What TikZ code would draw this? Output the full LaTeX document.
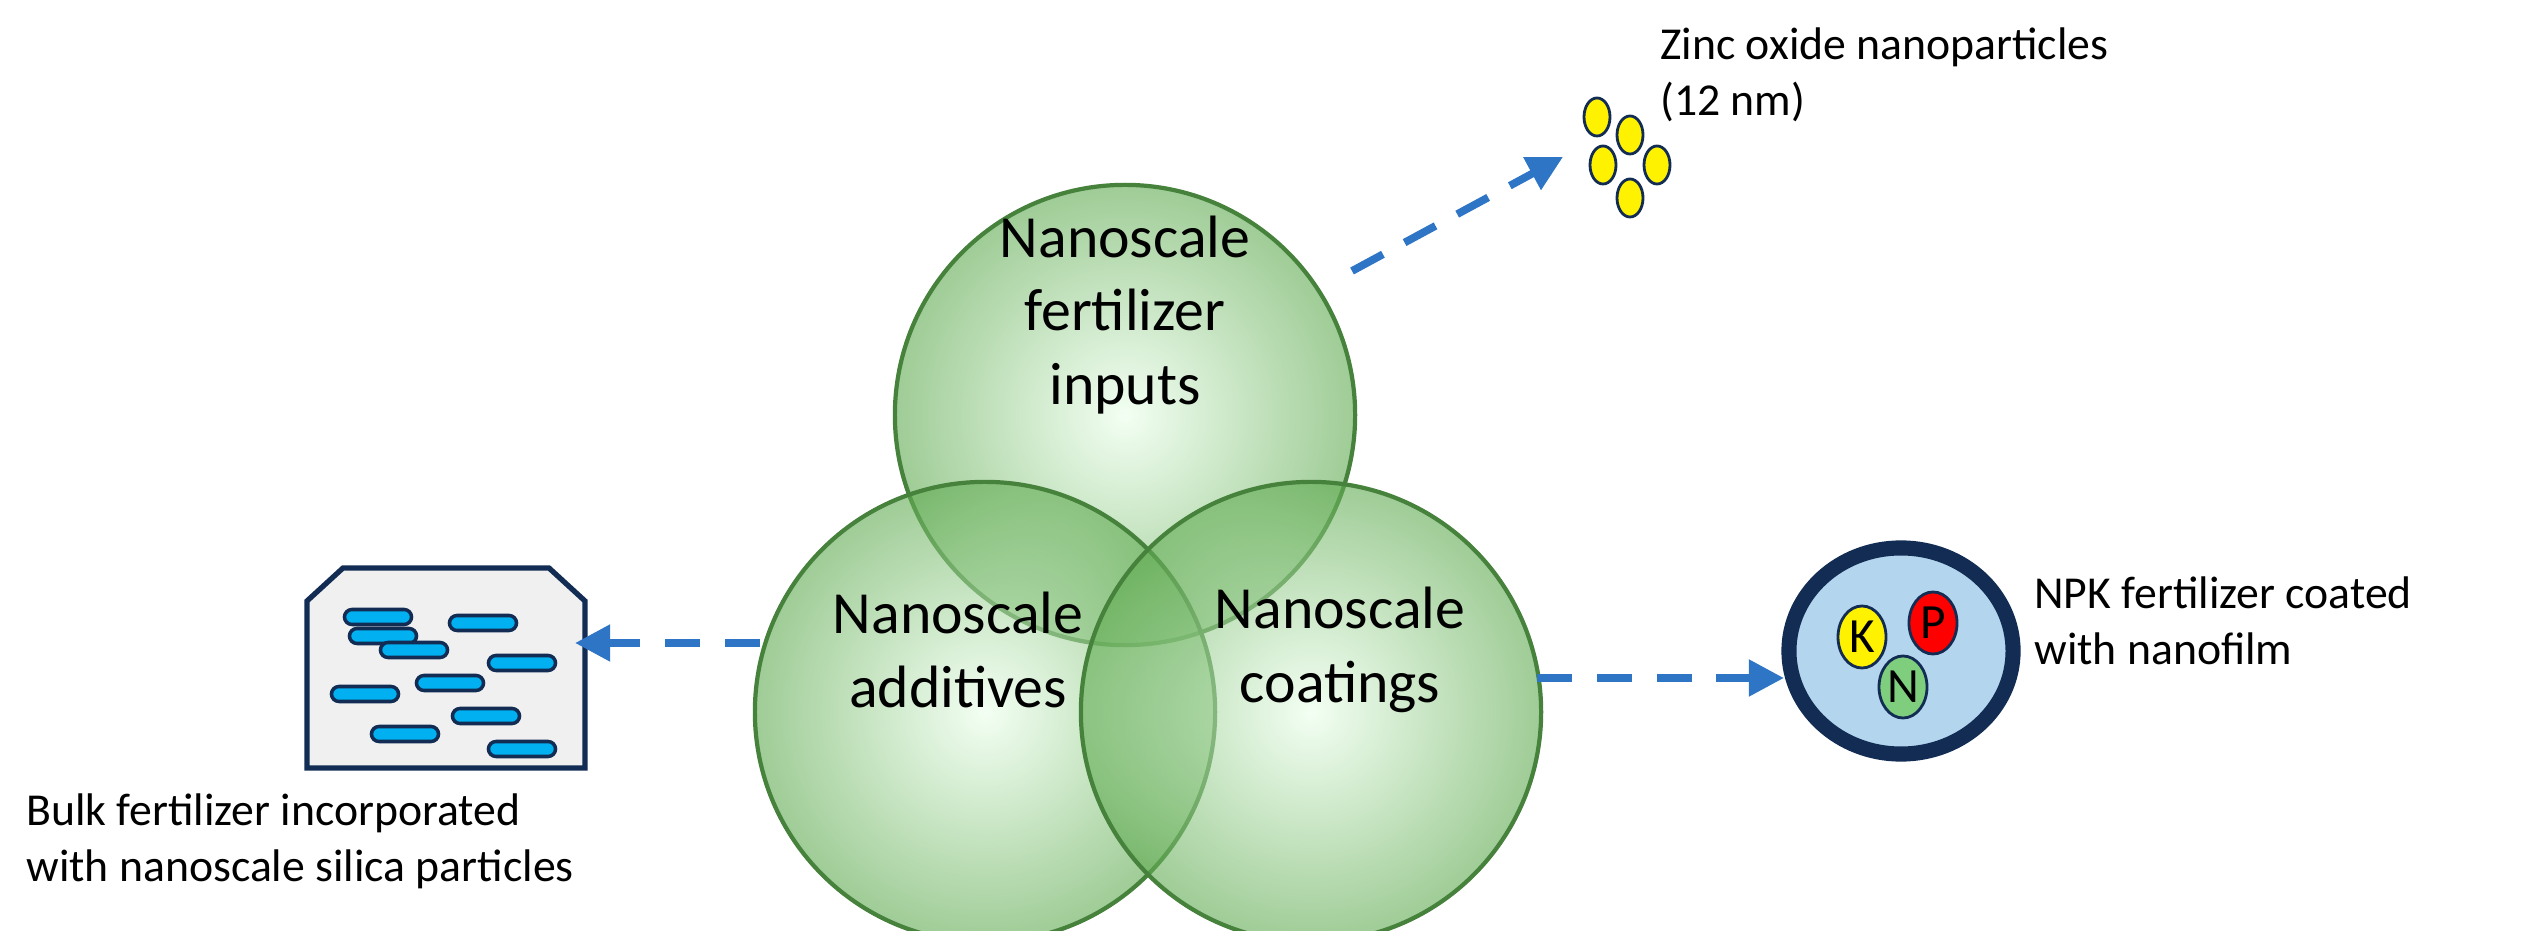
\documentclass[tikz,border=0pt]{standalone}
\usepackage{fontspec}
\setmainfont{Carlito}
\usetikzlibrary{arrows.meta,shapes.geometric,shapes.misc}
\definecolor{arrowblue}{RGB}{46,117,198}
\definecolor{navy}{RGB}{18,44,84}
\definecolor{rodblue}{RGB}{0,176,240}
\definecolor{coatblue}{RGB}{180,213,238}
\definecolor{ringgreen}{RGB}{70,130,60}
\definecolor{rimgreen}{RGB}{95,170,80}
\tikzset{
  venn/.style={circle,minimum size=4.6cm,inner sep=0pt,draw=ringgreen,line width=1.2pt,
    inner color=white!92!green,outer color=rimgreen,fill opacity=0.6,
    text opacity=1,align=center,font=\fontsize{17}{21}\selectfont},
  link/.style={arrowblue,line width=2.2pt,dash pattern=on 10pt off 7pt,-{Triangle[length=10pt,width=10pt]}},
  label/.style={align=left,anchor=west,font=\fontsize{13}{16}\selectfont},
  rod/.style={rounded rectangle,draw=navy,line width=1pt,fill=rodblue,minimum width=0.67cm,minimum height=0.15cm,inner sep=0pt},
  zinc/.style={ellipse,draw=navy,line width=0.8pt,fill=yellow,minimum width=0.26cm,minimum height=0.38cm,inner sep=0pt},
  nutrient/.style={ellipse,draw=navy,line width=0.8pt,minimum width=0.48cm,minimum height=0.62cm,inner sep=0pt,font=\fontsize{14}{16}\selectfont}
}
\begin{document}
\begin{tikzpicture}[x=0.01cm,y=0.01cm]
\useasboundingbox (0,0) rectangle (2521,930);

% venn circles
\node[venn] (inputs) at (1125,515) {};
\node[venn] (additives) at (985,218) {};
\node[venn] (coatings) at (1311,218) {};
\node[align=center,font=\fontsize{17}{21}\selectfont] (inputsText) at (1125,615) {Nanoscale\\fertilizer\\inputs};
\node[align=center,font=\fontsize{17}{21}\selectfont] (additivesText) at (958,280) {Nanoscale\\additives};
\node[align=center,font=\fontsize{17}{21}\selectfont] (coatingsText) at (1340,280) {Nanoscale\\coatings};

% zinc oxide
\foreach \x/\y in {1597/813,1630/795,1603/765,1657/765,1630/732}
  \node[zinc] at (\x,\y) {};
\node[label] (zincText) at (1648,855) {Zinc oxide nanoparticles\\(12 nm)};

% bulk fertilizer
\draw[navy,line width=1.5pt,fill=gray!12] (307,162) -- (307,329) -- (343,362) -- (549,362) -- (585,329) -- (585,162) -- cycle;
\foreach \x/\y in {378/313,483/307,383/294,414/280,522/267,450/247,365/236,486/214,405/196,522/181}
  \node[rod] at (\x,\y) {};
\node[label] (bulkText) at (14,89) {Bulk fertilizer incorporated\\with nanoscale silica particles};

% npk
\node[ellipse,draw=navy,line width=4.3pt,fill=coatblue,minimum width=2.24cm,minimum height=2.06cm,inner sep=0pt] (npk) at (1901,279) {};
\node[nutrient,fill=yellow] (k) at (1862,293) {K};
\node[nutrient,fill=red] (p) at (1933,307) {P};
\node[nutrient,fill=green!45!gray!70] (n) at (1903,243) {N};
\node[label] (npkText) at (2022,309) {NPK fertilizer coated\\with nanofilm};

% arrows
\coordinate (zincEnd) at (1563,773);
\coordinate (bulkEnd) at (575,287);
\coordinate (inputsStart) at (1352,659);
\coordinate (additivesStart) at (760,287);
\coordinate (coatingsStart) at (1537,252);
\coordinate (npkEnd) at (1784,252);
\draw[link] (inputsStart) -- (zincEnd);
\draw[link] (additivesStart) -- (bulkEnd);
\draw[link] (coatingsStart) -- (npkEnd);
\end{tikzpicture}
\end{document}
